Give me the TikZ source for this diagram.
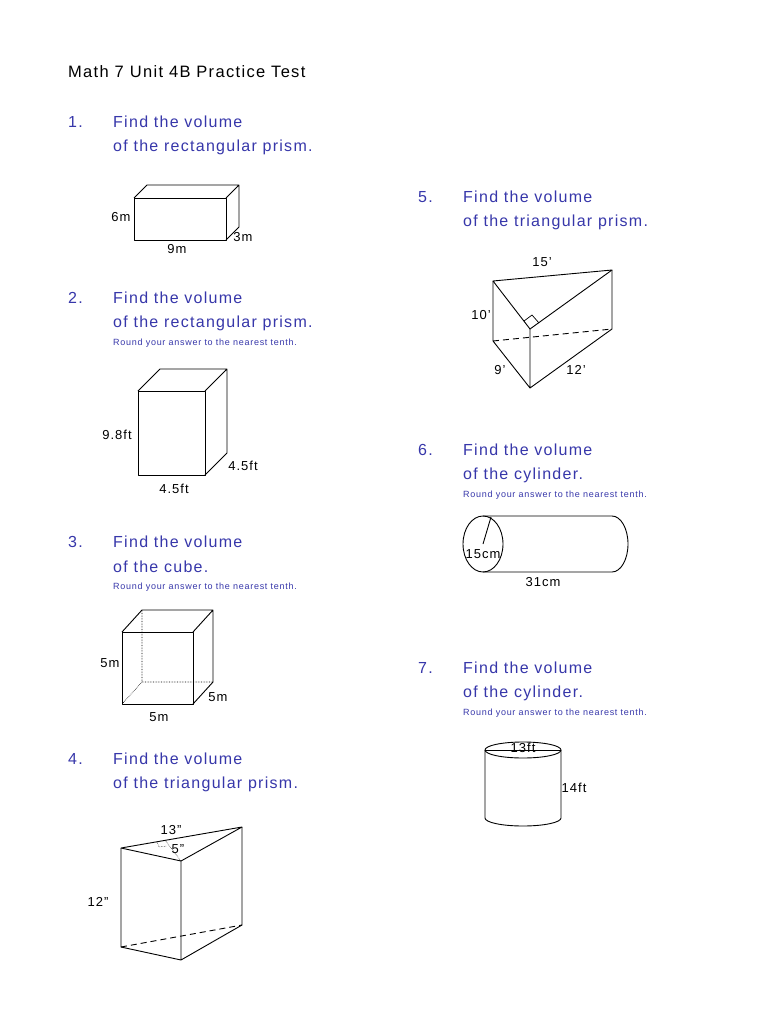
\documentclass[tikz,border=0pt]{standalone}
\usepackage{fontspec}
\setmainfont{Liberation Sans}[LetterSpace=8]
\definecolor{qblue}{RGB}{55,55,170}
\begin{document}
\begin{tikzpicture}[x=1pt,y=-1pt,
  q/.style={anchor=west,text=qblue,font=\fontsize{16}{19}\selectfont,inner sep=0},
  note/.style={anchor=west,text=qblue,font=\fontsize{9}{11}\selectfont,inner sep=0},
  lab/.style={font=\fontsize{13}{15}\selectfont,inner sep=0},
  ln/.style={line width=0.9pt,line join=round}]
\useasboundingbox[fill=white] (0,0) rectangle (768,1024);
\node[anchor=west,inner sep=0,font=\fontsize{16.5}{19}\selectfont] (title) at (68,72) {Math 7 Unit 4B Practice Test};
% questions
\foreach \n/\x/\y/\a/\b in {1/68/122/Find the volume/of the rectangular prism.,
  2/68/298/Find the volume/of the rectangular prism.,
  3/68/542/Find the volume/of the cube.,
  4/68/759/Find the volume/of the triangular prism.,
  5/418/197/Find the volume/of the triangular prism.,
  6/418/450/Find the volume/of the cylinder.,
  7/418/668/Find the volume/of the cylinder.}{
  \node[q] (n\n) at (\x,\y) {\n.};
  \node[q] (a\n) at (\x+45,\y) {\a};
  \node[q] (b\n) at (\x+45,\y+25) {\b};
}
\foreach \n/\x/\y in {2/113/343,3/113/587,6/463/495,7/463/713}{
  \node[note] (r\n) at (\x,\y) {Round your answer to the nearest tenth.};}
% 1
\draw[ln] (134,198) rectangle (226,240);
\draw[ln] (134,198) -- (147,185) -- (239,185) -- (239,227) -- (226,240) (239,185) -- (226,198);
\node[lab] (l1a) at (121,217) {6m};
\node[lab] (l1b) at (177,249) {9m};
\node[lab] (l1c) at (243,237) {3m};
% 2
\draw[ln] (138,391) rectangle (205,475);
\draw[ln] (138,391) -- (160,369) -- (227,369) -- (227,453) -- (205,475) (227,369) -- (205,391);
\node[lab] (l2a) at (117,435) {9.8ft};
\node[lab] (l2b) at (174,489) {4.5ft};
\node[lab] (l2c) at (243,466) {4.5ft};
% 3
\draw[ln] (122,632) rectangle (193,704);
\draw[ln] (122,632) -- (142,610) -- (213,610) -- (213,682) -- (193,704) (213,610) -- (193,632);
\draw[densely dotted,line width=0.6pt] (142,610) -- (142,682) -- (213,682) (142,682) -- (122,704);
\node[lab] (l3a) at (110,663) {5m};
\node[lab] (l3b) at (218,697) {5m};
\node[lab] (l3c) at (159,717) {5m};
% 4
\draw[ln] (121,848) -- (242,827) -- (181,861) -- cycle;
\draw[ln] (121,848) -- (121,947) -- (181,960) -- (242,925) -- (242,827) (181,861) -- (181,960);
\draw[ln,dashed,dash pattern=on 6pt off 4pt] (121,947) -- (242,925);
\draw[densely dotted,line width=0.5pt] (165,840) -- (181,861) (157,842) -- (159,847) -- (167,846);
\node[lab] (l4a) at (171,830) {13”};
\node[lab] (l4b) at (178,849) {5”};
\node[lab] (l4c) at (98,902) {12”};
% 5
\draw[ln] (493,281) -- (612,270) -- (530,329) -- cycle;
\draw[ln] (493,281) -- (493,341) -- (530,388) -- (612,329) -- (612,270) (530,329) -- (530,388);
\draw[ln,dashed,dash pattern=on 6pt off 4pt] (493,341) -- (612,329);
\draw[line width=0.7pt] (524,321) -- (532,315) -- (539,323);
\node[lab] (l5a) at (542,262) {15’};
\node[lab] (l5b) at (481,315) {10’};
\node[lab] (l5c) at (500,370) {9’};
\node[lab] (l5d) at (576,370) {12’};
% 6
\draw[ln] (483,516) -- (612,516) arc[start angle=-90,end angle=90,x radius=16,y radius=28] -- (483,572);
\draw[ln] (483,544) ellipse[x radius=20,y radius=28];
\draw[ln] (483,544) -- (491,517);
\node[lab] (l6a) at (483,554) {15cm};
\node[lab] (l6b) at (543,582) {31cm};
% 7
\draw[ln] (523,750) ellipse[x radius=38,y radius=8];
\draw[ln] (485,750) -- (485,818) arc[start angle=180,end angle=0,x radius=38,y radius=8] -- (561,750);
\draw[ln] (485,750) -- (561,750);
\node[lab] (l7a) at (523,748) {13ft};
\node[lab] (l7b) at (574,788) {14ft};
\end{tikzpicture}
\end{document}
